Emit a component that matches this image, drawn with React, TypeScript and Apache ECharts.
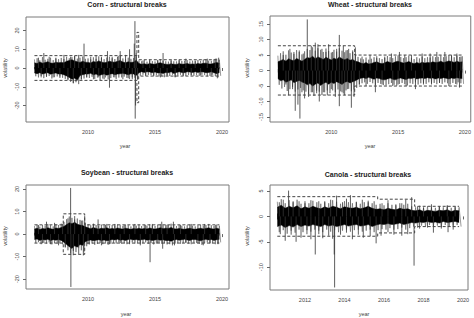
import React, { useEffect, useRef } from "react";
import * as echarts from "echarts";

// ---------- data ----------
const cornBandStart = 2006.0;
const wheatBandStart = 2006.0;
const soyBandStart = 2006.0;
const canolaBandStart = 2010.6;
const bandStep = 0.2;

// dense core of the series (solid black)
const cornHi = [
  2.8, 2.4, 3.2, 2.6, 2.9, 3.4, 2.7, 2.5, 3.1, 2.8,
  3.0, 2.8, 3.6, 4.0, 4.4, 3.8, 3.3, 3.0, 3.6, 3.1,
  3.0, 2.7, 3.5, 3.1, 3.8, 3.2, 2.8, 3.1, 3.6, 3.2,
  3.1, 3.6, 4.0, 3.2, 2.8, 3.3, 2.9, 3.2, 4.2, 2.4,
  2.0, 2.3, 1.9, 2.4, 2.1, 2.0, 2.5, 2.8, 2.3, 2.0,
  1.9, 2.3, 2.0, 1.9, 2.4, 2.0, 2.1, 2.4, 2.0, 2.2,
  2.0, 2.4, 2.1, 2.5, 2.6, 2.2, 2.1, 2.6, 3.0, 2.5,
];
const cornLo = [
  -2.6, -3.0, -2.5, -3.2, -2.8, -2.5, -3.3, -2.9, -2.6, -3.2,
  -3.2, -3.6, -4.2, -5.0, -6.0, -5.4, -6.4, -4.0, -3.6, -3.2,
  -3.2, -2.8, -3.6, -3.2, -4.0, -3.6, -3.2, -3.8, -3.3, -3.0,
  -3.6, -3.2, -3.1, -2.8, -3.2, -3.6, -3.1, -3.2, -4.0, -2.5,
  -2.0, -2.4, -2.0, -2.1, -2.5, -2.1, -2.6, -2.5, -2.9, -2.4,
  -2.5, -2.0, -2.9, -2.4, -2.0, -2.4, -2.5, -2.0, -2.1, -2.4,
  -2.0, -2.4, -2.0, -2.1, -2.5, -2.4, -2.0, -2.5, -3.0, -2.4,
];
// outer, thinner fringe of the series
const cornOuterHi = [
  4.6, 5.2, 4.1, 5.8, 4.4, 4.9, 5.5, 4.2, 5.0, 4.7,
  5.4, 4.8, 6.0, 5.2, 5.8, 6.3, 5.0, 5.5, 6.1, 4.9,
  5.1, 4.6, 5.7, 4.9, 6.2, 5.3, 4.7, 5.6, 6.0, 5.2,
  4.8, 5.9, 6.4, 5.1, 4.6, 5.5, 4.9, 5.3, 6.2, 4.0,
  3.6, 4.2, 3.4, 4.0, 3.7, 3.5, 4.3, 4.8, 3.9, 3.6,
  3.4, 4.1, 3.6, 3.5, 4.4, 3.7, 3.8, 4.2, 3.5, 3.9,
  3.6, 4.3, 3.8, 4.5, 4.7, 3.9, 3.8, 4.6, 5.0, 4.3,
];
const cornOuterLo = [
  -4.4, -5.0, -4.2, -5.4, -4.8, -4.3, -5.6, -4.9, -4.5, -5.3,
  -5.2, -5.8, -6.5, -7.4, -8.2, -7.6, -8.6, -6.2, -5.6, -5.0,
  -5.3, -4.7, -5.8, -5.1, -6.4, -5.6, -5.0, -6.1, -5.4, -4.9,
  -5.8, -5.1, -5.0, -4.6, -5.3, -5.9, -5.0, -5.2, -6.3, -4.1,
  -3.6, -4.2, -3.7, -3.8, -4.4, -3.8, -4.5, -4.3, -4.9, -4.1,
  -4.3, -3.6, -4.8, -4.1, -3.6, -4.2, -4.3, -3.7, -3.8, -4.2,
  -3.7, -4.2, -3.6, -3.8, -4.4, -4.2, -3.6, -4.3, -5.0, -4.2,
];
const cornSpikes = [
  [2006.3, 5.5], [2006.5, -5], [2006.7, 8], [2006.9, -4.5], [2007.1, 6], [2007.4, -5],
  [2007.6, 5.5], [2007.9, -4.5], [2008.2, 7], [2008.5, -6], [2008.7, 6], [2008.9, -8],
  [2009.0, 6.5], [2009.3, 7], [2009.5, -6], [2009.7, 13], [2009.9, -5], [2010.2, 6],
  [2010.4, -6], [2010.6, 6.5], [2010.8, -5], [2011.0, 6], [2011.2, -6], [2011.45, 9],
  [2011.6, -10.5], [2011.8, 6], [2012.0, -5], [2012.25, 6.5], [2012.4, 9], [2012.6, -6],
  [2012.8, 7], [2013.0, -5.5], [2013.1, 10], [2013.3, -6], [2013.45, 13], [2013.5, 25],
  [2013.52, -27], [2013.55, -20], [2013.6, 8], [2013.7, -6], [2014.1, 4], [2014.3, -4],
  [2014.6, 4.5], [2014.9, -4], [2015.2, 4], [2015.4, -5], [2015.6, 8], [2015.9, -4],
  [2016.2, 4], [2016.5, -5], [2016.8, 4], [2017.1, -4], [2017.3, 5], [2017.7, -4],
  [2018.0, 4], [2018.4, -4], [2018.9, 5], [2019.2, -4], [2019.5, 5], [2019.65, -5.5],
  [2019.75, 5.5],
];
const cornBreakYears = [2006.0, 2013.65, 2013.78, 2019.8];
const cornUpper = [6.6, 19, 4.4];
const cornLower = [-6.6, -18.5, -4.3];

const wheatHi = [
  2.8, 3.2, 3.6, 3.0, 3.8, 3.4, 3.2, 3.9, 3.5, 3.0,
  3.6, 4.2, 4.0, 4.6, 3.8, 4.4, 4.0, 3.6, 4.3, 3.8,
  3.4, 4.0, 3.6, 4.4, 3.8, 3.5, 3.9, 3.3, 3.6, 3.0,
  2.8, 2.4, 2.2, 2.6, 2.1, 2.3, 2.6, 2.8, 2.4, 2.2,
  2.5, 2.9, 2.6, 2.4, 2.8, 3.0, 2.7, 2.4, 2.6, 2.9,
  2.5, 2.2, 2.6, 2.3, 2.7, 2.4, 2.6, 2.5, 2.8, 2.6,
  2.7, 3.0, 2.6, 2.8, 3.1, 2.9, 2.6, 3.0, 2.7, 2.8,
];
const wheatLo = [
  -2.6, -3.3, -3.0, -3.8, -3.4, -3.0, -3.9, -3.5, -3.2, -3.7,
  -4.0, -4.6, -4.2, -5.0, -4.4, -4.0, -4.8, -4.2, -3.8, -4.4,
  -3.8, -4.2, -3.6, -4.0, -4.5, -3.8, -3.5, -4.0, -3.6, -3.3,
  -2.8, -2.5, -2.3, -2.6, -2.2, -2.5, -2.8, -2.4, -2.6, -2.9,
  -3.0, -2.7, -2.4, -2.8, -3.0, -2.6, -2.4, -2.7, -2.9, -2.5,
  -2.6, -2.3, -2.7, -2.5, -2.4, -2.6, -2.3, -2.5, -2.4, -2.7,
  -2.4, -2.6, -2.3, -2.5, -2.7, -2.4, -2.6, -2.3, -2.5, -2.6,
];
const wheatOuterHi = [
  4.8, 5.6, 6.2, 5.1, 6.5, 5.8, 5.4, 6.6, 6.0, 5.2,
  6.2, 7.0, 6.6, 7.5, 6.4, 7.2, 6.7, 6.0, 7.1, 6.3,
  5.8, 6.7, 6.1, 7.2, 6.4, 5.9, 6.6, 5.6, 6.0, 5.2,
  4.4, 3.9, 3.6, 4.2, 3.5, 3.8, 4.3, 4.6, 4.0, 3.7,
  4.1, 4.7, 4.3, 4.0, 4.6, 4.9, 4.4, 4.0, 4.3, 4.8,
  4.1, 3.7, 4.3, 3.9, 4.5, 4.0, 4.3, 4.2, 4.6, 4.3,
  4.4, 4.9, 4.3, 4.6, 5.0, 4.7, 4.3, 4.9, 4.4, 4.6,
];
const wheatOuterLo = [
  -4.6, -5.8, -5.3, -6.6, -6.0, -5.3, -6.8, -6.1, -5.6, -6.4,
  -6.8, -7.6, -7.0, -8.2, -7.3, -6.8, -7.9, -7.0, -6.4, -7.3,
  -6.4, -7.0, -6.1, -6.7, -7.4, -6.4, -5.9, -6.7, -6.1, -5.6,
  -4.5, -4.1, -3.8, -4.3, -3.7, -4.1, -4.6, -4.0, -4.3, -4.7,
  -4.8, -4.4, -4.0, -4.6, -4.9, -4.3, -4.0, -4.4, -4.8, -4.1,
  -4.3, -3.8, -4.5, -4.1, -4.0, -4.3, -3.8, -4.1, -4.0, -4.4,
  -4.0, -4.3, -3.8, -4.1, -4.5, -4.0, -4.3, -3.8, -4.1, -4.3,
];
const wheatSpikes = [
  [2006.4, 5], [2006.9, 7], [2007.2, 6], [2007.6, 6.5], [2007.9, 5.5], [2008.2, 16.5],
  [2008.5, 8], [2008.8, 9], [2009.0, 8.5], [2009.3, 7], [2009.6, 6], [2009.8, 8.5],
  [2010.1, 6], [2010.4, 7], [2010.6, 11.5], [2010.9, 8], [2011.1, 6.5], [2011.3, 7],
  [2011.6, 6.5], [2011.8, 7.5], [2012.3, 4.5], [2012.9, 5], [2013.4, 4], [2014.0, 4.5],
  [2014.5, 5.5], [2015.1, 6], [2015.5, 5], [2016.0, 5], [2016.8, 5.5], [2017.4, 5.5],
  [2017.9, 6], [2018.5, 6], [2019.0, 5], [2019.4, 5.5], [2019.7, 4.5],
  [2006.6, -4.5], [2006.8, -8], [2007.1, -6], [2007.3, -13], [2007.5, -11], [2007.65, -15.5],
  [2007.8, -7], [2008.0, -9], [2008.3, -8.5], [2008.6, -7], [2008.9, -6.5], [2009.1, -10],
  [2009.4, -7], [2009.7, -8], [2010.0, -6], [2010.3, -8.5], [2010.6, -11.5], [2010.8, -7],
  [2011.0, -8], [2011.2, -6], [2011.5, -12], [2011.7, -8.5], [2012.1, -4.5], [2012.6, -5],
  [2013.3, -7], [2013.8, -4.5], [2014.6, -5], [2015.0, -4.5], [2015.6, -5], [2016.3, -6],
  [2016.9, -4.5], [2017.5, -4.5], [2018.1, -4], [2018.8, -5], [2019.4, -4.5], [2019.6, -5.5],
];
const wheatBreakYears = [2006.0, 2011.75, 2019.8];
const wheatUpper = [8.0, 5.0];
const wheatLower = [-7.9, -5.0];

const soyHi = [
  2.2, 2.6, 2.0, 2.5, 2.3, 2.8, 2.4, 2.1, 2.7, 2.5,
  2.9, 3.4, 4.2, 5.0, 4.6, 5.2, 4.4, 4.0, 3.8, 3.2,
  2.8, 2.4, 2.9, 2.5, 2.2, 2.6, 2.4, 2.8, 2.3, 2.5,
  2.3, 2.7, 2.4, 2.2, 2.6, 2.4, 2.1, 2.5, 2.3, 2.6,
  2.2, 2.5, 2.3, 2.7, 2.4, 2.2, 2.5, 2.8, 2.4, 2.6,
  2.5, 2.9, 2.4, 2.2, 2.5, 2.3, 2.1, 2.4, 2.6, 2.3,
  2.1, 2.4, 2.6, 2.3, 2.5, 2.8, 2.4, 2.2, 2.6, 2.3,
];
const soyLo = [
  -2.4, -2.2, -2.8, -2.4, -2.6, -2.3, -2.9, -2.5, -2.7, -2.4,
  -2.8, -3.6, -4.6, -5.6, -6.4, -5.2, -5.8, -4.6, -5.0, -3.4,
  -2.9, -2.6, -3.0, -2.7, -2.5, -2.8, -2.6, -3.0, -2.7, -2.4,
  -2.6, -2.3, -2.7, -2.5, -2.8, -2.4, -2.3, -2.6, -2.4, -2.7,
  -2.5, -2.3, -2.7, -2.5, -2.9, -2.6, -2.4, -2.7, -2.5, -2.9,
  -2.8, -3.2, -2.6, -2.4, -2.7, -2.5, -2.3, -2.6, -2.8, -2.4,
  -2.4, -2.7, -3.0, -2.5, -2.3, -2.6, -2.4, -2.8, -2.5, -2.3,
];
const soyOuterHi = [
  3.6, 4.2, 3.3, 4.0, 3.7, 4.5, 3.9, 3.4, 4.3, 4.0,
  4.6, 5.4, 6.6, 7.8, 7.2, 8.0, 6.9, 6.3, 6.0, 5.0,
  4.4, 3.9, 4.6, 4.0, 3.6, 4.2, 3.9, 4.5, 3.7, 4.0,
  3.7, 4.3, 3.9, 3.6, 4.2, 3.9, 3.4, 4.0, 3.7, 4.2,
  3.6, 4.0, 3.7, 4.3, 3.9, 3.6, 4.0, 4.5, 3.9, 4.2,
  4.0, 4.6, 3.9, 3.6, 4.0, 3.7, 3.4, 3.9, 4.2, 3.7,
  3.4, 3.9, 4.2, 3.7, 4.0, 4.5, 3.9, 3.6, 4.2, 3.7,
];
const soyOuterLo = [
  -3.9, -3.6, -4.5, -3.9, -4.2, -3.7, -4.6, -4.0, -4.3, -3.9,
  -4.5, -5.7, -7.2, -8.6, -9.4, -8.0, -8.8, -7.2, -7.8, -5.4,
  -4.6, -4.2, -4.8, -4.3, -4.0, -4.5, -4.2, -4.8, -4.3, -3.9,
  -4.2, -3.7, -4.3, -4.0, -4.5, -3.9, -3.7, -4.2, -3.9, -4.3,
  -4.0, -3.7, -4.3, -4.0, -4.6, -4.2, -3.9, -4.3, -4.0, -4.6,
  -4.5, -5.0, -4.2, -3.9, -4.3, -4.0, -3.7, -4.2, -4.5, -3.9,
  -3.9, -4.3, -4.8, -4.0, -3.7, -4.2, -3.9, -4.5, -4.0, -3.7,
];
const soySpikes = [
  [2006.3, 4], [2006.6, -4], [2006.9, 5.5], [2007.2, -4.5], [2007.5, 5], [2007.8, -5],
  [2008.1, 4.5], [2008.3, -6], [2008.5, 7], [2008.7, 20.5], [2008.72, -23.5], [2008.9, -7.5],
  [2009.0, 6.5], [2009.3, -6], [2009.5, 6], [2009.65, -9.5], [2009.75, 8], [2010.0, -4.5],
  [2010.4, 4.5], [2010.75, 6.5], [2011.0, -5], [2011.3, 4], [2011.6, -4.5], [2012.0, 4.5],
  [2012.4, -4], [2012.7, 4], [2013.1, -4.5], [2013.5, 4.5], [2013.9, -5], [2014.3, 4],
  [2014.63, -12.5], [2014.8, 4.5], [2015.2, -4], [2015.5, 5.5], [2015.57, -6.5], [2015.9, 4],
  [2016.37, 5.5], [2016.45, -5], [2016.9, 4], [2017.3, -4], [2017.7, 4.5], [2018.2, -4],
  [2018.6, -5], [2018.7, 4.5], [2019.1, -4], [2019.5, 4], [2019.7, -4.5],
];
const soyBreakYears = [2006.0, 2008.15, 2009.75, 2019.8];
const soyUpper = [4.1, 9.0, 4.1];
const soyLower = [-4.0, -9.0, -4.0];

const canolaHi = [
  1.8, 2.2, 1.6, 2.0, 1.7, 2.1, 1.5, 1.9, 1.6, 2.0,
  1.7, 1.5, 1.9, 1.6, 2.0, 1.8, 1.5, 1.9, 1.7, 1.6,
  1.8, 1.5, 1.7, 2.0, 1.6, 1.4, 1.5, 1.3, 1.6, 1.4,
  1.3, 1.6, 1.4, 1.5, 1.2, 1.1, 1.3, 1.0, 1.2, 1.1,
  1.0, 1.2, 1.1, 1.3, 1.0, 1.2, 1.1,
];
const canolaLo = [
  -2.0, -1.7, -2.2, -1.8, -2.1, -1.6, -2.0, -1.7, -1.9, -1.6,
  -1.8, -2.0, -1.6, -1.9, -1.7, -2.0, -1.8, -1.6, -1.9, -1.7,
  -1.6, -1.9, -1.8, -1.6, -2.0, -1.7, -1.5, -1.6, -1.4, -1.6,
  -1.5, -1.3, -1.6, -1.4, -1.2, -1.3, -1.1, -1.2, -1.0, -1.2,
  -1.1, -1.3, -1.0, -1.2, -1.1, -1.0, -1.2,
];
const canolaOuterHi = [
  2.9, 3.4, 2.6, 3.2, 2.8, 3.3, 2.5, 3.0, 2.6, 3.1,
  2.8, 2.5, 3.0, 2.6, 3.2, 2.9, 2.5, 3.0, 2.8, 2.6,
  2.9, 2.5, 2.8, 3.1, 2.6, 2.3, 2.5, 2.2, 2.6, 2.3,
  2.2, 2.6, 2.3, 2.5, 2.0, 1.8, 2.1, 1.7, 2.0, 1.8,
  1.7, 2.0, 1.8, 2.1, 1.7, 2.0, 1.8,
];
const canolaOuterLo = [
  -3.1, -2.7, -3.4, -2.8, -3.2, -2.6, -3.1, -2.7, -3.0, -2.6,
  -2.8, -3.1, -2.6, -3.0, -2.7, -3.1, -2.8, -2.6, -3.0, -2.7,
  -2.6, -3.0, -2.8, -2.6, -3.1, -2.7, -2.5, -2.6, -2.3, -2.6,
  -2.5, -2.2, -2.6, -2.3, -2.0, -2.2, -1.8, -2.0, -1.7, -2.0,
  -1.8, -2.1, -1.7, -2.0, -1.8, -1.7, -2.0,
];
const canolaSpikes = [
  [2010.7, 2.8], [2010.9, 3.3], [2011.17, 5.1], [2011.4, 3], [2011.7, 3], [2012.0, 2.6],
  [2012.3, 3.2], [2012.7, 3], [2013.0, 2.8], [2013.3, 3.3], [2013.6, 4.1], [2013.9, 2.8],
  [2014.1, 3.5], [2014.3, 4.2], [2014.6, 2.8], [2014.9, 3.3], [2015.2, 2.8], [2015.5, 3],
  [2015.9, 2.6], [2016.2, 3.2], [2016.6, 2.4], [2016.9, 2.6], [2017.1, 3.3], [2017.4, 3.8],
  [2017.7, 2], [2018.0, 1.8], [2018.4, 2.4], [2018.8, 1.9], [2019.2, 2.2], [2019.6, 1.8],
  [2010.75, -3.5], [2011.0, -4.8], [2011.3, -3.6], [2011.55, -5], [2011.8, -4.2], [2012.1, -3.5],
  [2012.3, -4.5], [2012.52, -7.5], [2012.7, -3.5], [2012.9, -4.3], [2013.2, -3.8], [2013.4, -4.4],
  [2013.48, -7.5], [2013.5, -14], [2013.8, -3.6], [2014.1, -3.2], [2014.4, -4.5], [2014.7, -3.6],
  [2014.95, -4.2], [2015.3, -3.9], [2015.6, -5.3], [2015.85, -3.8], [2016.2, -3.1], [2016.5, -3.6],
  [2016.9, -3.8], [2017.2, -3.5], [2017.52, -9.7], [2017.8, -2.4], [2018.2, -2.2], [2018.5, -3.2],
  [2018.9, -2.4], [2019.24, -3.1], [2019.5, -2.6],
];
const canolaBreakYears = [2010.6, 2015.68, 2017.55, 2019.8];
const canolaUpper = [3.9, 3.4, 2.0];
const canolaLower = [-3.9, -3.25, -2.0];

const titles = [
  "Corn - structural breaks",
  "Wheat - structural breaks",
  "Soybean - structural breaks",
  "Canola - structural breaks",
];
const longTicks = [2010, 2015, 2020];
const canolaXTicks = [2012, 2014, 2016, 2018, 2020];
const cornYTicks = [-20, -10, 0, 10, 20];
const wheatYTicks = [-15, -10, -5, 0, 5, 10, 15];
const soyYTicks = [-20, -10, 0, 10, 20];
const canolaYTicks = [-10, -5, 0, 5];

// ---------- layout ----------
const FONT = "Liberation Sans, Arial, sans-serif";
const panels = [
  {
    grid: { left: 26, top: 17, width: 203, height: 105 },
    x: [2005.37, 2020.52], y: [-28.8, 27.2], xTicks: longTicks, yTicks: cornYTicks,
    start: cornBandStart, hi: cornHi, lo: cornLo, ohi: cornOuterHi, olo: cornOuterLo, spikes: cornSpikes,
    breaks: cornBreakYears, upper: cornUpper, lower: cornLower,
    title: [127, 4.5], year: [125, 146], vol: [5, 68],
  },
  {
    grid: { left: 270, top: 16, width: 203, height: 106 },
    x: [2005.41, 2020.44], y: [-16.6, 17.6], xTicks: longTicks, yTicks: wheatYTicks,
    start: wheatBandStart, hi: wheatHi, lo: wheatLo, ohi: wheatOuterHi, olo: wheatOuterLo, spikes: wheatSpikes,
    breaks: wheatBreakYears, upper: wheatUpper, lower: wheatLower,
    title: [370, 4], year: [370, 146], vol: [247, 68],
  },
  {
    grid: { left: 26, top: 185, width: 203, height: 104 },
    x: [2005.37, 2020.52], y: [-24.4, 21.8], xTicks: longTicks, yTicks: soyYTicks,
    start: soyBandStart, hi: soyHi, lo: soyLo, ohi: soyOuterHi, olo: soyOuterLo, spikes: soySpikes,
    breaks: soyBreakYears, upper: soyUpper, lower: soyLower,
    title: [127, 172.5], year: [126, 314], vol: [5, 236],
  },
  {
    grid: { left: 270, top: 185, width: 198, height: 105 },
    x: [2010.23, 2020.25], y: [-14.5, 6.2], xTicks: canolaXTicks, yTicks: canolaYTicks,
    start: canolaBandStart, hi: canolaHi, lo: canolaLo, ohi: canolaOuterHi, olo: canolaOuterLo, spikes: canolaSpikes,
    breaks: canolaBreakYears, upper: canolaUpper, lower: canolaLower,
    title: [368, 174], year: [364, 314], vol: [247, 236],
  },
];

function stepLine(years: number[], levels: number[]) {
  const pts: number[][] = [];
  levels.forEach((lv, i) => {
    pts.push([years[i], lv]);
    pts.push([years[i + 1], lv]);
  });
  return pts;
}

// the fringe is drawn as a zig-zag between each read outer high and low
function zigzag(start: number, hi: number[], lo: number[]) {
  const pts: number[][] = [];
  hi.forEach((h, i) => {
    const t = start + i * bandStep;
    pts.push([t, h]);
    pts.push([t + bandStep / 2, lo[i]]);
  });
  return pts;
}

function buildOption() {
  const grid: any[] = [];
  const xAxis: any[] = [];
  const yAxis: any[] = [];
  const series: any[] = [];
  const graphic: any[] = [];
  const tickStyle = { show: true, length: 3, lineStyle: { color: "#666", width: 1 } };

  panels.forEach((p, k) => {
    grid.push({ ...p.grid, show: true, borderColor: "#7a7a7a", borderWidth: 1, backgroundColor: "transparent" });
    xAxis.push({
      type: "value", gridIndex: k, min: p.x[0], max: p.x[1],
      axisLine: { show: false }, splitLine: { show: false },
      axisTick: { ...tickStyle, customValues: p.xTicks },
      axisLabel: { customValues: p.xTicks, fontSize: 5.5, color: "#444", fontFamily: FONT, margin: 7, formatter: (v: number) => String(v) },
    });
    yAxis.push({
      type: "value", gridIndex: k, min: p.y[0], max: p.y[1],
      axisLine: { show: false }, splitLine: { show: false },
      axisTick: { ...tickStyle, customValues: p.yTicks },
      axisLabel: { customValues: p.yTicks, fontSize: 5.5, color: "#444", fontFamily: FONT, margin: 6, rotate: 90, formatter: (v: number) => String(v) },
    });
    const t = p.hi.map((_, i) => +(p.start + i * bandStep).toFixed(2));
    series.push({
      type: "line", xAxisIndex: k, yAxisIndex: k, silent: true, z: 1,
      data: zigzag(p.start, p.ohi, p.olo), symbol: "none",
      lineStyle: { width: 0.6, color: "#555" },
    });
    [p.hi, p.lo].forEach((arr, j) => {
      series.push({
        type: "line", xAxisIndex: k, yAxisIndex: k, silent: true, z: 2,
        data: arr.map((v, i) => [t[i], v]), symbol: "none",
        lineStyle: { width: 0.5, color: "#000" },
        areaStyle: { color: "#000", opacity: 1, origin: j === 0 ? -0.6 : 0.6 },
      });
    });
    series.push({
      type: "custom", xAxisIndex: k, yAxisIndex: k, silent: true, clip: true, z: 3,
      data: p.spikes,
      renderItem: (_params: any, api: any) => {
        const x = api.value(0);
        const y = api.value(1);
        const a = api.coord([x, 0]);
        const b = api.coord([x, y]);
        return { type: "line", shape: { x1: a[0], y1: a[1], x2: b[0], y2: b[1] }, style: { stroke: "#333", lineWidth: 0.8 } };
      },
    });
    [p.upper, p.lower].forEach((lv) => {
      series.push({
        type: "line", xAxisIndex: k, yAxisIndex: k, silent: true, z: 4,
        data: stepLine(p.breaks, lv), symbol: "none",
        lineStyle: { width: 1, color: "#444", type: [3, 2] },
      });
    });
    graphic.push({
      type: "text", x: p.title[0], y: p.title[1],
      style: { text: titles[k], fontSize: 7, fontWeight: "bold", fill: "#222", fontFamily: FONT, align: "center", verticalAlign: "middle" },
    });
    graphic.push({
      type: "text", x: p.year[0], y: p.year[1],
      style: { text: "year", fontSize: 5.5, fill: "#444", fontFamily: FONT, align: "center", verticalAlign: "middle" },
    });
    graphic.push({
      type: "text", x: p.vol[0], y: p.vol[1], rotation: Math.PI / 2,
      style: { text: "volatility", fontSize: 5.5, fill: "#444", fontFamily: FONT, align: "center", verticalAlign: "middle" },
    });
  });

  return { animation: false, backgroundColor: "#fff", grid, xAxis, yAxis, series, graphic };
}

export default function App() {
  const ref = useRef<HTMLDivElement>(null);
  useEffect(() => {
    document.body.style.margin = "0";
    const chart = echarts.init(ref.current!, undefined, { renderer: "svg" });
    chart.setOption(buildOption() as any);
    return () => chart.dispose();
  }, []);
  return <div ref={ref} style={{ width: 474, height: 318 }} />;
}
